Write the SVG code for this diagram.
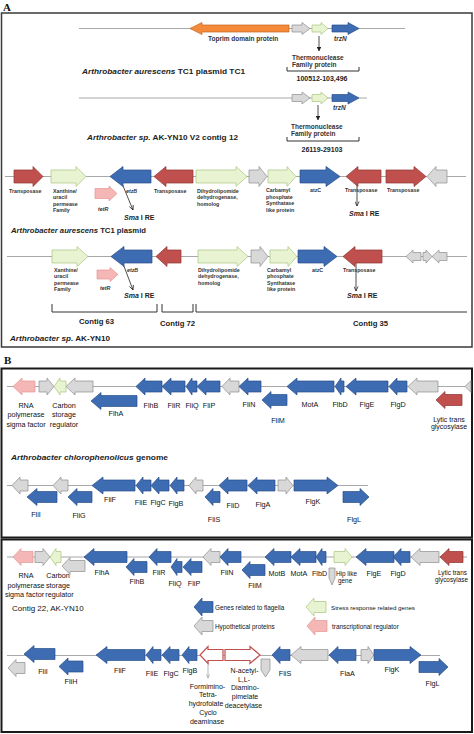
<svg xmlns="http://www.w3.org/2000/svg" width="474" height="734" viewBox="0 0 474 734">
<defs>
<style>
.bl{fill:#3D6CB2;stroke:#2A4F8A;stroke-width:0.7}
.rd{fill:#C0504D;stroke:#8C3431;stroke-width:0.7}
.gr{fill:#E7F3D1;stroke:#A9C67E;stroke-width:0.7}
.gy{fill:#D8D8D8;stroke:#8E8E8E;stroke-width:0.7}
.pk{fill:#F5B7B5;stroke:#E29794;stroke-width:0.7}
.or{fill:#F58A3B;stroke:#C6641E;stroke-width:0.7}
.ro{fill:#FFFFFF;stroke:#C0504D;stroke-width:1.2}
.bb{stroke:#A8A8A8;stroke-width:1.2;fill:none}
.pt{stroke:#222;stroke-width:0.8;fill:none}
.pl{stroke:#999;stroke-width:0.7;fill:none}
.br{stroke:#333;stroke-width:1;fill:none}
.fa{fill:none;stroke:#3a3a3a;stroke-width:1.5}
.fb{fill:none;stroke:#1a1a1a;stroke-width:2}
text{font-family:"Liberation Sans",Arial,sans-serif}
.a{font-size:5.3px;font-weight:bold;fill:#333}
.a6{font-size:6.5px;font-weight:bold;fill:#333}
.sm{font-size:7px;font-weight:bold;fill:#222}
.ti{font-size:8px;font-weight:bold;fill:#222}
.ct{font-size:7.7px;font-weight:bold;fill:#222}
.n{font-size:7.2px;fill:#111;text-anchor:middle}
.f7{font-size:7px}
.ns{font-size:6.4px;fill:#111}
.it{font-style:italic}
.c{text-anchor:middle}
.lab{font-family:"Liberation Serif","Times New Roman",serif;font-size:11px;font-weight:bold;fill:#111}
</style>
<marker id="ah" viewBox="0 0 6 6" refX="5.5" refY="3" markerWidth="4.5" markerHeight="4.5" markerUnits="userSpaceOnUse" orient="auto"><path d="M0,0 L6,3 L0,6 z" fill="#222"/></marker>
<marker id="av" viewBox="0 0 6 6" refX="5.5" refY="3" markerWidth="5" markerHeight="5" markerUnits="userSpaceOnUse" orient="auto"><path d="M0,0.5 L5.5,3 L0,5.5" fill="none" stroke="#222" stroke-width="0.9"/></marker>
<marker id="ag" viewBox="0 0 6 6" refX="5.5" refY="3" markerWidth="4" markerHeight="4" markerUnits="userSpaceOnUse" orient="auto"><path d="M0,0.5 L5.5,3 L0,5.5" fill="none" stroke="#999" stroke-width="0.9"/></marker>
</defs>
<rect x="0" y="0" width="474" height="734" fill="#fff"/>

<text class="lab" x="3" y="10.5">A</text>
<text class="lab" x="4" y="364">B</text>
<rect class="fa" x="1.5" y="13" width="470.5" height="334"/>
<rect class="fb" x="1.5" y="368.5" width="470.5" height="169"/>
<rect class="fb" x="1.5" y="539.5" width="470.5" height="192.5"/>

<g id="connectors">
<line class="bb" x1="79" y1="28.5" x2="405" y2="28.5"/>
<line class="bb" x1="79" y1="98" x2="367" y2="98"/>
<line class="bb" x1="5" y1="176.5" x2="466" y2="176.5"/>
<line class="bb" x1="7" y1="256.5" x2="467" y2="256.5"/>
<line class="bb" x1="7" y1="386.5" x2="467" y2="386.5"/>
<line class="bb" x1="7" y1="485.5" x2="368" y2="485.5"/>
<line class="bb" x1="7" y1="557" x2="467" y2="557"/>
<line class="bb" x1="7" y1="655.5" x2="440" y2="655.5"/>
<line class="pt" x1="319" y1="36" x2="319" y2="51" marker-end="url(#ah)"/>
<line class="pt" x1="318" y1="105" x2="318" y2="120" marker-end="url(#ah)"/>
<line class="pt" x1="121" y1="181" x2="133" y2="210" marker-end="url(#av)"/>
<line class="pt" x1="357" y1="180" x2="357" y2="206" marker-end="url(#av)"/>
<line class="pt" x1="122" y1="261" x2="133" y2="290" marker-end="url(#av)"/>
<line class="pt" x1="356" y1="260" x2="356" y2="291" marker-end="url(#av)"/>
<line class="pl" x1="208" y1="661" x2="208" y2="678" marker-end="url(#ag)"/>
<path class="br" d="M287,67 V71 H359 V67"/>
<path class="br" d="M287,137 V141 H359 V137"/>
<path class="br" d="M52,304 V312 H157 V304"/>
<path class="br" d="M162,304 V312 H193 V304"/>
<path class="br" d="M196,304 V312 H467"/>
</g>

<!-- A row 1 -->
<g id="a1-toprim"><polygon class="or" points="289,25 202,25 202,22.5 190,28.5 202,34.5 202,32 289,32"/><text class="a6" x="208" y="40.5">Toprim domain protein</text></g>
<g id="a1-hyp"><polygon class="gy" points="292,25 302,25 302,22.5 310,28.5 302,34.5 302,32 292,32"/></g>
<g id="a1-thermo"><polygon class="gr" points="312,25 321,25 321,22.5 328,28.5 321,34.5 321,32 312,32"/><text class="a6" x="292" y="59.5">Thermonuclease<tspan x="292" dy="7">Family protein</tspan></text></g>
<g id="a1-trzN"><polygon class="bl" points="332,25 348,25 348,22.5 359,28.5 348,34.5 348,32 332,32"/><text class="a6 it" x="334" y="40.5">trzN</text></g>
<g id="a1-range"><text class="sm c" x="322" y="81">100512-103,496</text></g>
<g id="a1-title"><text class="ti" x="82" y="73.5" textLength="163" lengthAdjust="spacingAndGlyphs"><tspan class="it">Arthrobacter aurescens</tspan> TC1 plasmid TC1</text></g>

<!-- A row 2 -->
<g id="a2-hyp"><polygon class="gy" points="292,94.5 302,94.5 302,92 310,98 302,104 302,101.5 292,101.5"/></g>
<g id="a2-thermo"><polygon class="gr" points="312,94.5 321,94.5 321,92 328,98 321,104 321,101.5 312,101.5"/><text class="a6" x="291" y="128.5">Thermonuclease<tspan x="291" dy="7">Family protein</tspan></text></g>
<g id="a2-trzN"><polygon class="bl" points="332,94.5 348,94.5 348,92 359,98 348,104 348,101.5 332,101.5"/><text class="a6 it" x="333" y="110">trzN</text></g>
<g id="a2-range"><text class="sm c" x="322" y="152">26119-29103</text></g>
<g id="a2-title"><text class="ti" x="87" y="139.5" textLength="151" lengthAdjust="spacingAndGlyphs"><tspan class="it">Arthrobacter sp.</tspan> AK-YN10 V2 contig 12</text></g>

<!-- A row 3 -->
<g id="a3-tnp1"><polygon class="rd" points="14,170 33,170 33,166.5 43,176.5 33,186.5 33,183 14,183"/><text class="a" x="9" y="192.5">Transposase</text></g>
<g id="a3-xan"><polygon class="gr" points="51,170 76,170 76,166.5 86,176.5 76,186.5 76,183 51,183"/><text class="a" x="53" y="192.5">Xanthine/<tspan x="53" dy="6.5">uracil</tspan><tspan x="53" dy="6.5">permease</tspan><tspan x="53" dy="6.5">Family</tspan></text></g>
<g id="a3-tetR"><polygon class="pk" points="95,188.5 109,188.5 109,186 117,193.5 109,201 109,198.5 95,198.5"/><text class="a it" x="98" y="211">tetR</text></g>
<g id="a3-etzB"><polygon class="bl" points="151,170 123,170 123,166.5 110,176.5 123,186.5 123,183 151,183"/><text class="a it" x="126" y="192.5">etzB</text><text class="sm" x="124" y="219.5"><tspan class="it">Sma</tspan> I RE</text></g>
<g id="a3-tnp2"><polygon class="rd" points="193,170 166,170 166,166.5 154,176.5 166,186.5 166,183 193,183"/><text class="a" x="154" y="192.5">Transposase</text></g>
<g id="a3-dih"><polygon class="gr" points="196,170 236,170 236,166.5 247,176.5 236,186.5 236,183 196,183"/><text class="a" x="197" y="192.5">Dihydrolipomide<tspan x="197" dy="6.5">dehydrogenase,</tspan><tspan x="197" dy="6.5">homolog</tspan></text></g>
<g id="a3-hyp"><polygon class="gy" points="249,170 259,170 259,166.5 267,176.5 259,186.5 259,183 249,183"/></g>
<g id="a3-carb"><polygon class="gr" points="268,170 287,170 287,166.5 296,176.5 287,186.5 287,183 268,183"/><text class="a" x="266" y="192">Carbamyl<tspan x="266" dy="6.6">phosphate</tspan><tspan x="266" dy="6.6">Synthatase</tspan><tspan x="266" dy="6.6">like protein</tspan></text></g>
<g id="a3-atzC"><polygon class="bl" points="300,170 326,170 326,166.5 340,176.5 326,186.5 326,183 300,183"/><text class="a" x="310" y="192">atzC</text></g>
<g id="a3-tnp3"><polygon class="rd" points="381,170 358,170 358,166.5 346,176.5 358,186.5 358,183 381,183"/><text class="a" x="345" y="192">Transposase</text><text class="sm" x="349" y="216"><tspan class="it">Sma</tspan> I RE</text></g>
<g id="a3-tnp4"><polygon class="rd" points="386,170 414,170 414,166.5 426,176.5 414,186.5 414,183 386,183"/><text class="a" x="387" y="192">Transposase</text></g>
<g id="a3-hyp2"><polygon class="gy" points="447,170 436,170 436,166.5 427,176.5 436,186.5 436,183 447,183"/></g>
<g id="a3-title"><text class="ti" x="11" y="232.5" textLength="135" lengthAdjust="spacingAndGlyphs"><tspan class="it">Arthrobacter aurescens</tspan> TC1 plasmid</text></g>

<!-- A row 4 -->
<g id="a4-xan"><polygon class="gr" points="52,250 77,250 77,246.5 88,256.5 77,266.5 77,263 52,263"/><text class="a" x="54" y="271.5">Xanthine/<tspan x="54" dy="6.5">uracil</tspan><tspan x="54" dy="6.5">permease</tspan><tspan x="54" dy="6.5">Family</tspan></text></g>
<g id="a4-tetR"><polygon class="pk" points="97,270 110,270 110,267.5 118,274.5 110,281.5 110,279 97,279"/><text class="a it" x="100" y="290">tetR</text></g>
<g id="a4-etzB"><polygon class="bl" points="152,250 124,250 124,246.5 111,256.5 124,266.5 124,263 152,263"/><text class="a it" x="127" y="271.5">etzB</text><text class="sm" x="124" y="297.5"><tspan class="it">Sma</tspan> I RE</text></g>
<g id="a4-red"><polygon class="rd" points="181,250 167,250 167,246.5 156,256.5 167,266.5 167,263 181,263"/></g>
<g id="a4-dih"><polygon class="gr" points="198,250 237,250 237,246.5 248,256.5 237,266.5 237,263 198,263"/><text class="a" x="198" y="271.5">Dihydrolipomide<tspan x="198" dy="6.5">dehydrogenase,</tspan><tspan x="198" dy="6.5">homolog</tspan></text></g>
<g id="a4-hyp"><polygon class="gy" points="251,250 260,250 260,246.5 268,256.5 260,266.5 260,263 251,263"/></g>
<g id="a4-carb"><polygon class="gr" points="270,250 288,250 288,246.5 297,256.5 288,266.5 288,263 270,263"/><text class="a" x="267" y="271.5">Carbamyl<tspan x="267" dy="6.6">phosphate</tspan><tspan x="267" dy="6.6">Synthatase</tspan><tspan x="267" dy="6.6">like protein</tspan></text></g>
<g id="a4-atzC"><polygon class="bl" points="298,250 324,250 324,246.5 337,256.5 324,266.5 324,263 298,263"/><text class="a" x="312" y="271.5">atzC</text></g>
<g id="a4-tnp"><polygon class="rd" points="382,250 355,250 355,246.5 343,256.5 355,266.5 355,263 382,263"/><text class="a" x="343" y="271.5">Transposase</text><text class="sm" x="347" y="297.5"><tspan class="it">Sma</tspan> I RE</text></g>
<g id="a4-hyp2"><polygon class="gy" points="421,252.5 413,252.5 413,250 406,256.5 413,263 413,260.5 421,260.5"/></g>
<g id="a4-hyp3"><polygon class="gy" points="423,252.5 426,252.5 426,250 432,256.5 426,263 426,260.5 423,260.5"/></g>
<g id="a4-hyp4"><polygon class="gy" points="447,252.5 439,252.5 439,250 432,256.5 439,263 439,260.5 447,260.5"/></g>
<g id="a4-contigs"><text class="ct" x="79" y="324">Contig 63</text><text class="ct" x="160" y="325.5">Contig 72</text><text class="ct" x="353" y="325.5">Contig 35</text></g>
<g id="a4-title"><text class="ti" x="10" y="341" textLength="100" lengthAdjust="spacingAndGlyphs"><tspan class="it">Arthrobacter sp.</tspan> AK-YN10</text></g>

<!-- B row 1 -->
<g id="b1-rpo"><polygon class="pk" points="35,381 22,381 22,378 13,386.5 22,395 22,392 35,392"/><text class="n" x="26" y="407.5">RNA<tspan x="26" dy="9.5">polymerase</tspan><tspan x="26" dy="9.5">sigma factor</tspan></text></g>
<g id="b1-hyp1"><polygon class="gy" points="39,381 47,381 47,378 54,386.5 47,395 47,392 39,392"/></g>
<g id="b1-csr"><polygon class="gr" points="66,381 60,381 60,378 54,386.5 60,395 60,392 66,392"/><text class="n" x="64" y="407.5">Carbon<tspan x="64" dy="9.5">storage</tspan><tspan x="64" dy="9.5">regulator</tspan></text></g>
<g id="b1-hyp2"><polygon class="gy" points="93,381 75,381 75,378 66,386.5 75,395 75,392 93,392"/></g>
<g id="b1-flhA"><polygon class="bl" points="137,395.5 101,395.5 101,392.5 91,401 101,409.5 101,406.5 137,406.5"/><text class="n" x="116" y="416">FlhA</text></g>
<g id="b1-flhB"><polygon class="bl" points="162,381 145,381 145,378 136,386.5 145,395 145,392 162,392"/><text class="n" x="151" y="408">FlhB</text></g>
<g id="b1-fliR"><polygon class="bl" points="185,381 171,381 171,378 162,386.5 171,395 171,392 185,392"/><text class="n" x="174" y="408">FliR</text></g>
<g id="b1-fliQ"><polygon class="bl" points="197,381 192,381 192,378 186,386.5 192,395 192,392 197,392"/><text class="n" x="192" y="408">FliQ</text></g>
<g id="b1-fliP"><polygon class="bl" points="220,381 206,381 206,378 197,386.5 206,395 206,392 220,392"/><text class="n" x="209" y="408">FliP</text></g>
<g id="b1-hyp3"><polygon class="gy" points="239,381 230,381 230,378 222,386.5 230,395 230,392 239,392"/></g>
<g id="b1-fliN"><polygon class="bl" points="261,381 248,381 248,378 239,386.5 248,395 248,392 261,392"/><text class="n" x="249" y="407">FliN</text></g>
<g id="b1-fliM"><polygon class="bl" points="287,394.5 271,394.5 271,391.5 262,400 271,408.5 271,405.5 287,405.5"/><text class="n" x="278" y="422.5">FliM</text></g>
<g id="b1-motA"><polygon class="bl" points="334,381 297,381 297,378 287,386.5 297,395 297,392 334,392"/><text class="n" x="310" y="407">MotA</text></g>
<g id="b1-flbD"><polygon class="bl" points="344,381 341,381 341,378 335,386.5 341,395 341,392 344,392"/><text class="n" x="340" y="407">FlbD</text></g>
<g id="b1-flgE"><polygon class="bl" points="388,381 356,381 356,378 346,386.5 356,395 356,392 388,392"/><text class="n" x="367" y="407">FlgE</text></g>
<g id="b1-flgD"><polygon class="bl" points="407,381 397,381 397,378 389,386.5 397,395 397,392 407,392"/><text class="n" x="398" y="407">FlgD</text></g>
<g id="b1-hyp4"><polygon class="gy" points="438,381 417,381 417,378 408,386.5 417,395 417,392 438,392"/></g>
<g id="b1-lytic"><polygon class="rd" points="462,394.5 445,394.5 445,391.5 436,400 445,408.5 445,405.5 462,405.5"/><text class="n f7" x="449" y="421.5">Lytic trans<tspan x="449" dy="7.5">glycosylase</tspan></text></g>
<g id="b1-hyp5"><polygon class="gy" points="471,380.5 465,386.5 471,392.5"/></g>
<g id="b-title"><text class="ti" x="11" y="459.5" textLength="157" lengthAdjust="spacingAndGlyphs"><tspan class="it">Arthrobacter chlorophenolicus</tspan>  genome</text></g>

<!-- B row 2 -->
<g id="b2-hyp1"><polygon class="gy" points="28,480 20,480 20,477 12,485.5 20,494 20,491 28,491"/></g>
<g id="b2-fliI"><polygon class="bl" points="57,491.5 37,491.5 37,488.5 27,497 37,505.5 37,502.5 57,502.5"/><text class="n" x="36" y="517">FliI</text></g>
<g id="b2-hyp2"><polygon class="gy" points="68,480 61,480 61,477 53,485.5 61,494 61,491 68,491"/></g>
<g id="b2-fliG"><polygon class="bl" points="92,491.5 77,491.5 77,488.5 68,497 77,505.5 77,502.5 92,502.5"/><text class="n" x="79" y="518">FliG</text></g>
<g id="b2-fliF"><polygon class="bl" points="135,480 103,480 103,477 92,485.5 103,494 103,491 135,491"/><text class="n" x="110" y="502">FliF</text></g>
<g id="b2-fliE"><polygon class="bl" points="151,480 143,480 143,477 136,485.5 143,494 143,491 151,491"/><text class="n" x="141" y="505">FliE</text></g>
<g id="b2-flgC"><polygon class="bl" points="169,480 159,480 159,477 151,485.5 159,494 159,491 169,491"/><text class="n" x="158" y="505">FlgC</text></g>
<g id="b2-flgB"><polygon class="bl" points="184,480 177,480 177,477 170,485.5 177,494 177,491 184,491"/><text class="n" x="176" y="506">FlgB</text></g>
<g id="b2-hyp3"><polygon class="gy" points="203,480 196,480 196,477 189,485.5 196,494 196,491 203,491"/></g>
<g id="b2-fliS"><polygon class="bl" points="220,491.5 213,491.5 213,488.5 205,497 213,505.5 213,502.5 220,502.5"/><text class="n" x="214" y="522">FliS</text></g>
<g id="b2-fliD"><polygon class="bl" points="247,480 228,480 228,477 219,485.5 228,494 228,491 247,491"/><text class="n" x="233" y="508">FliD</text></g>
<g id="b2-flgA"><polygon class="bl" points="275,480 257,480 257,477 248,485.5 257,494 257,491 275,491"/><text class="n" x="263" y="507">FlgA</text></g>
<g id="b2-hyp4"><polygon class="gy" points="278,480 286,480 286,477 293,485.5 286,494 286,491 278,491"/></g>
<g id="b2-flgK"><polygon class="bl" points="294,480 327,480 327,477 338,485.5 327,494 327,491 294,491"/><text class="n" x="313" y="503.5">FlgK</text></g>
<g id="b2-flgL"><polygon class="bl" points="343,491.5 360,491.5 360,488.5 369,497 360,505.5 360,502.5 343,502.5"/><text class="n" x="354" y="522">FlgL</text></g>

<!-- C row 1 -->
<g id="c1-rpo"><polygon class="pk" points="33,551.5 21,551.5 21,548.5 13,557 21,565.5 21,562.5 33,562.5"/><text class="n" x="26" y="578">RNA<tspan x="26" dy="9.5">polymerase</tspan><tspan x="24.5" dy="9.5">sigma factor</tspan></text></g>
<g id="c1-hyp1"><polygon class="gy" points="35,551.5 43,551.5 43,548.5 50,557 43,565.5 43,562.5 35,562.5"/></g>
<g id="c1-csr"><polygon class="gr" points="61,551.5 56,551.5 56,548.5 50,557 56,565.5 56,562.5 61,562.5"/><text class="n" x="58" y="578">Carbon<tspan x="58" dy="9.5">storage</tspan><tspan x="59.5" dy="9.5">regulator</tspan></text></g>
<g id="c1-hyp2"><polygon class="gy" points="85,560.5 70,560.5 70,557.5 62,566 70,574.5 70,571.5 85,571.5"/></g>
<g id="c1-flhA"><polygon class="bl" points="127,551.5 94,551.5 94,548.5 84,557 94,565.5 94,562.5 127,562.5"/><text class="n" x="102" y="575">FlhA</text></g>
<g id="c1-flhB"><polygon class="bl" points="147,561.5 134,561.5 134,558.5 126,567 134,575.5 134,572.5 147,572.5"/><text class="n" x="137" y="584">FlhB</text></g>
<g id="c1-fliR"><polygon class="bl" points="171,551.5 157,551.5 157,548.5 149,557 157,565.5 157,562.5 171,562.5"/><text class="n" x="159" y="575">FliR</text></g>
<g id="c1-fliQ"><polygon class="bl" points="182,561.5 177,561.5 177,558.5 171,567 177,575.5 177,572.5 182,572.5"/><text class="n" x="175" y="586">FliQ</text></g>
<g id="c1-fliP"><polygon class="bl" points="202,561.5 191,561.5 191,558.5 183,567 191,575.5 191,572.5 202,572.5"/><text class="n" x="194" y="586">FliP</text></g>
<g id="c1-hyp3"><polygon class="gy" points="220,551.5 211,551.5 211,548.5 203,557 211,565.5 211,562.5 220,562.5"/></g>
<g id="c1-fliN"><polygon class="bl" points="241,551.5 228,551.5 228,548.5 220,557 228,565.5 228,562.5 241,562.5"/><text class="n" x="227" y="575">FliN</text></g>
<g id="c1-fliM"><polygon class="bl" points="265,564.5 250,564.5 250,561.5 242,570 250,578.5 250,575.5 265,575.5"/><text class="n" x="255" y="588">FliM</text></g>
<g id="c1-motB"><polygon class="bl" points="291,551.5 274,551.5 274,548.5 265,557 274,565.5 274,562.5 291,562.5"/><text class="n" x="277" y="576">MotB</text></g>
<g id="c1-motA"><polygon class="bl" points="316,551.5 300,551.5 300,548.5 291,557 300,565.5 300,562.5 316,562.5"/><text class="n" x="299" y="576">MotA</text></g>
<g id="c1-flbD"><polygon class="bl" points="326,551.5 322,551.5 322,548.5 316,557 322,565.5 322,562.5 326,562.5"/><text class="n" x="319.5" y="576">FlbD</text></g>
<g id="c1-hyp4"><polygon class="gy" points="329,568 335,568 335,578 332,585 329,578"/></g>
<g id="c1-hip"><polygon class="gr" points="334,551.5 345,551.5 345,548.5 352,557 345,565.5 345,562.5 334,562.5"/><text class="ns" x="336" y="576">Hip like<tspan x="338" dy="7">gene</tspan></text></g>
<g id="c1-flgE"><polygon class="bl" points="394,551.5 366,551.5 366,548.5 356,557 366,565.5 366,562.5 394,562.5"/><text class="n" x="374" y="576">FlgE</text></g>
<g id="c1-flgD"><polygon class="bl" points="410,551.5 401,551.5 401,548.5 393,557 401,565.5 401,562.5 410,562.5"/><text class="n" x="398" y="576">FlgD</text></g>
<g id="c1-hyp5"><polygon class="gy" points="439,551.5 420,551.5 420,548.5 411,557 420,565.5 420,562.5 439,562.5"/></g>
<g id="c1-lytic"><polygon class="rd" points="463,551.5 449,551.5 449,548.5 440,557 449,565.5 449,562.5 463,562.5"/><text class="ns" x="438" y="575">Lytic trans<tspan x="435" dy="7">glycosylase</tspan></text></g>
<g id="c-title"><text class="n" x="12" y="611" style="text-anchor:start;font-size:8px">Contig 22, AK-YN10</text></g>

<!-- legend -->
<g id="leg-flag"><polygon class="bl" points="213,601.5 202,601.5 202,598 194,607 202,616 202,612.5 213,612.5"/><text class="ns" x="215" y="609.5">Genes related to flagella</text></g>
<g id="leg-hyp"><polygon class="gy" points="213,620.5 202,620.5 202,617 194,626 202,635 202,631.5 213,631.5"/><text class="ns" x="215" y="628.5">Hypothetical proteins</text></g>
<g id="leg-stress"><polygon class="gr" points="326,601.5 314,601.5 314,598 306,607 314,616 314,612.5 326,612.5"/><text class="ns" x="331" y="609.5" style="font-size:6.2px">Stress response related genes</text></g>
<g id="leg-treg"><polygon class="pk" points="327,620.5 315,620.5 315,617 307,626 315,635 315,631.5 327,631.5"/><text class="ns" x="332" y="628.5">transcriptional regulator</text></g>

<!-- C row 2 -->
<g id="c2-hyp1"><polygon class="gy" points="25,662.5 16,662.5 16,659.5 8,668 16,676.5 16,673.5 25,673.5"/></g>
<g id="c2-fliI"><polygon class="bl" points="55,648.5 34,648.5 34,645.5 24,654 34,662.5 34,659.5 55,659.5"/><text class="n" x="43" y="673.5">FliI</text></g>
<g id="c2-fliH"><polygon class="bl" points="83,661 68,661 68,658 59,666.5 68,675 68,672 83,672"/><text class="n" x="71" y="683.5">FliH</text></g>
<g id="c2-fliF"><polygon class="bl" points="145,649.5 107,649.5 107,646.5 96,655 107,663.5 107,660.5 145,660.5"/><text class="n" x="120" y="673">FliF</text></g>
<g id="c2-fliE"><polygon class="bl" points="161,649.5 153,649.5 153,646.5 146,655 153,663.5 153,660.5 161,660.5"/><text class="n" x="152" y="675.5">FliE</text></g>
<g id="c2-flgC"><polygon class="bl" points="179,649.5 170,649.5 170,646.5 162,655 170,663.5 170,660.5 179,660.5"/><text class="n" x="171" y="675.5">FlgC</text></g>
<g id="c2-flgB"><polygon class="bl" points="197,649.5 189,649.5 189,646.5 182,655 189,663.5 189,660.5 197,660.5"/><text class="n" x="190" y="673">FlgB</text></g>
<g id="c2-ftcd"><polygon class="ro" points="223,649.5 208,649.5 208,646.5 200,655 208,663.5 208,660.5 223,660.5"/><text class="n f7" x="207.5" y="689">Formimino-<tspan x="208" dy="8">Tetra-</tspan><tspan x="206" dy="9">hydrofolate</tspan><tspan x="208" dy="9">Cyclo</tspan><tspan x="207" dy="9">deaminase</tspan></text></g>
<g id="c2-dapE"><polygon class="ro" points="225,649.5 250,649.5 250,646.5 260,655 250,663.5 250,660.5 225,660.5"/><text class="n f7" x="244.5" y="673">N-acetyl-<tspan x="244" dy="8.5">L,L-</tspan><tspan x="245" dy="8.5">Diamino-</tspan><tspan x="245" dy="9">pimelate</tspan><tspan x="243.5" dy="9">deacetylase</tspan></text></g>
<g id="c2-hyp2"><polygon class="gy" points="261,659 270,659 270,670 265.5,677 261,670"/></g>
<g id="c2-fliS"><polygon class="bl" points="290,649.5 280,649.5 280,646.5 272,655 280,663.5 280,660.5 290,660.5"/><text class="n" x="285" y="675.5">FliS</text></g>
<g id="c2-hyp3"><polygon class="gy" points="328,649.5 301,649.5 301,646.5 291,655 301,663.5 301,660.5 328,660.5"/></g>
<g id="c2-flaA"><polygon class="bl" points="356,649.5 338,649.5 338,646.5 329,655 338,663.5 338,660.5 356,660.5"/><text class="n" x="347.5" y="675.5">FlaA</text></g>
<g id="c2-hyp4"><polygon class="gy" points="361,649.5 368,649.5 368,646.5 374,655 368,663.5 368,660.5 361,660.5"/></g>
<g id="c2-flgK"><polygon class="bl" points="374,649.5 410,649.5 410,646.5 421,655 410,663.5 410,660.5 374,660.5"/><text class="n" x="392" y="671.5">FlgK</text></g>
<g id="c2-flgL"><polygon class="bl" points="419,661.5 439,661.5 439,658.5 448,667 439,675.5 439,672.5 419,672.5"/><text class="n" x="432.5" y="685.5">FlgL</text></g>
</svg>
